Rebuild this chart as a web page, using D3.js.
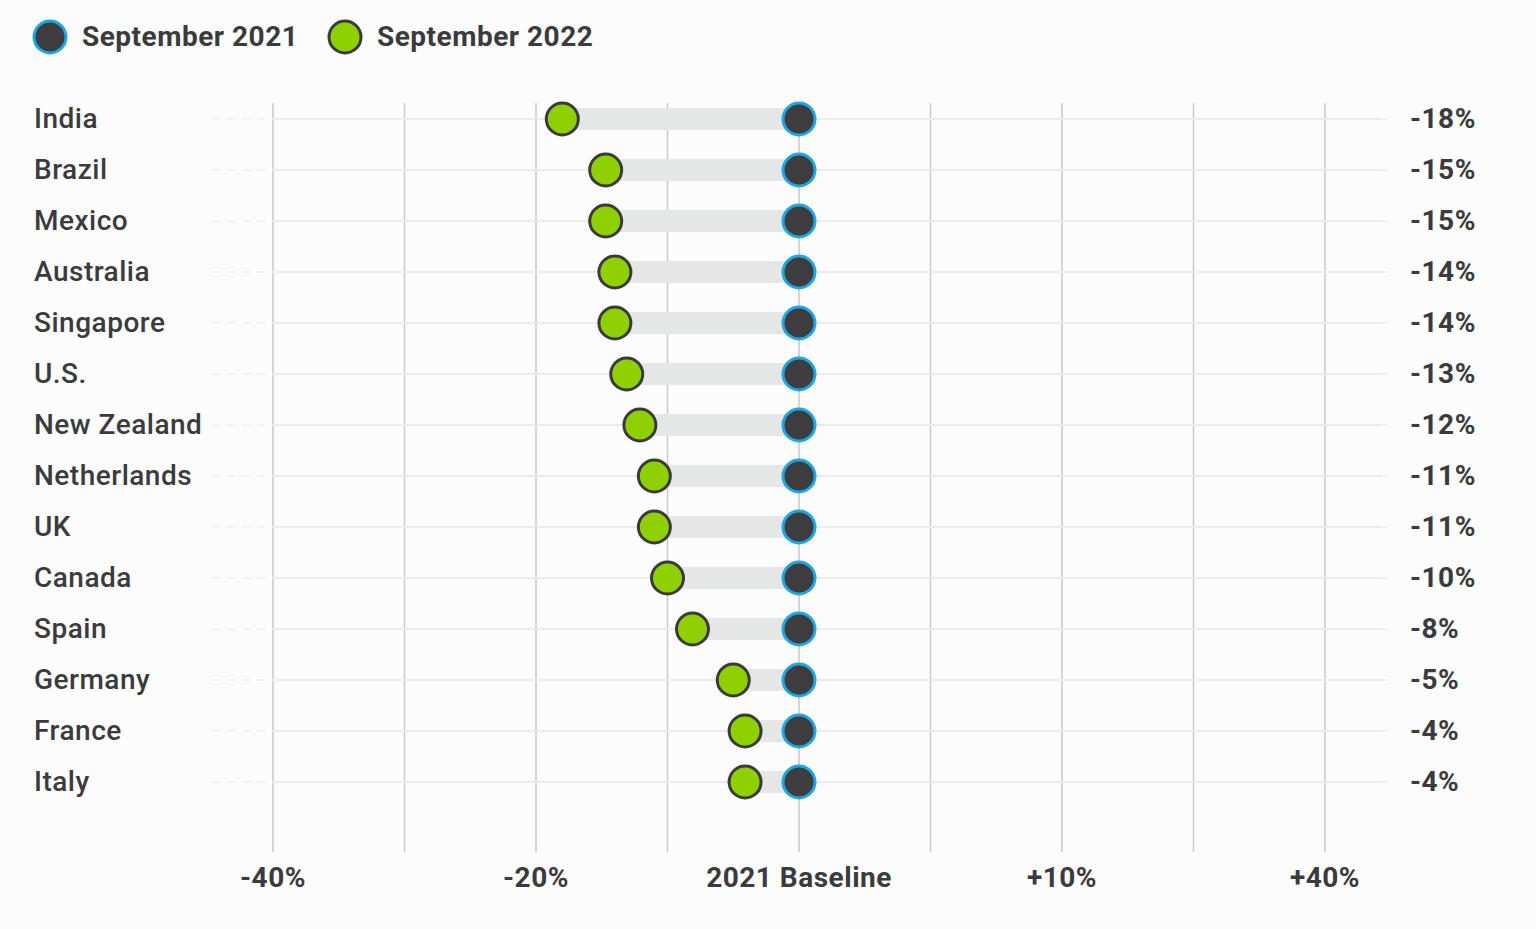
<!DOCTYPE html>
<html>
<head>
<meta charset="utf-8">
<script src="https://cdn.jsdelivr.net/npm/d3@7"></script>
<style>
  html, body { margin: 0; padding: 0; background: #fcfcfc; }
  svg text { font-family: Roboto, "Noto Sans", sans-serif; fill: #3b3b3d; letter-spacing: 0.5px; }
</style>
</head>
<body>
<svg id="chart" width="1536" height="929"></svg>
<script>
// data (change vs. 2021 baseline, %)
const countries = ['India', 'Brazil', 'Mexico', 'Australia', 'Singapore', 'U.S.', 'New Zealand',
  'Netherlands', 'UK', 'Canada', 'Spain', 'Germany', 'France', 'Italy'];
const sep2021 = [0, 0, 0, 0, 0, 0, 0, 0, 0, 0, 0, 0, 0, 0];
const sep2022 = [-18, -14.7, -14.7, -14, -14, -13.1, -12.1, -11, -11, -10, -8.1, -5, -4.1, -4.1];
const changeLabels = ['-18%', '-15%', '-15%', '-14%', '-14%', '-13%', '-12%', '-11%', '-11%', '-10%', '-8%', '-5%', '-4%', '-4%'];
const gridTicks = [-40, -30, -20, -10, 0, 10, 20, 30, 40];
const tickLabels = [
  { v: -40, t: '-40%' },
  { v: -20, t: '-20%' },
  { v: 0, t: '2021 Baseline' },
  { v: 20, t: '+10%' },
  { v: 40, t: '+40%' }
];
const seriesNames = ['September 2021', 'September 2022'];

const dark = '#3d3d3f', blue = '#1ea7e1', green = '#8fd100', outline = '#3a3a3a';

const svg = d3.select('#chart');
const x = d3.scaleLinear().domain([-40, 40]).range([273, 1325]);
const y = d3.scalePoint().domain(countries).range([119, 782]);

// vertical grid
svg.append('g')
  .selectAll('line')
  .data(gridTicks)
  .join('line')
  .attr('x1', d => x(d)).attr('x2', d => x(d))
  .attr('y1', 103).attr('y2', 852)
  .attr('stroke', '#c9c9c9')
  .attr('stroke-width', 1.5);

// row guide lines
const rows = svg.append('g');
rows.selectAll('line.solid')
  .data(countries)
  .join('line')
  .attr('class', 'solid')
  .attr('x1', 272).attr('x2', 1382)
  .attr('y1', d => y(d)).attr('y2', d => y(d))
  .attr('stroke', '#ebebeb')
  .attr('stroke-width', 2);
rows.selectAll('line.dl')
  .data(countries)
  .join('line')
  .attr('class', 'dl')
  .attr('x1', 212).attr('x2', 272)
  .attr('y1', d => y(d)).attr('y2', d => y(d))
  .attr('stroke', '#eeeeee')
  .attr('stroke-width', 1.5)
  .attr('stroke-dasharray', '8,7');
rows.selectAll('line.dr')
  .data(countries)
  .join('line')
  .attr('class', 'dr')
  .attr('x1', 1382).attr('x2', 1394)
  .attr('y1', d => y(d)).attr('y2', d => y(d))
  .attr('stroke', '#eeeeee')
  .attr('stroke-width', 1.5)
  .attr('stroke-dasharray', '6,6');

// connecting bars
svg.append('g')
  .selectAll('rect')
  .data(countries)
  .join('rect')
  .attr('x', (d, i) => x(sep2022[i]))
  .attr('width', (d, i) => x(sep2021[i]) - x(sep2022[i]))
  .attr('y', d => y(d) - 11)
  .attr('height', 22)
  .attr('fill', '#e5e6e6');

// 2022 points
svg.append('g')
  .selectAll('circle')
  .data(countries)
  .join('circle')
  .attr('cx', (d, i) => x(sep2022[i]))
  .attr('cy', d => y(d))
  .attr('r', 16)
  .attr('fill', green)
  .attr('stroke', outline)
  .attr('stroke-width', 3);

// 2021 points
svg.append('g')
  .selectAll('circle')
  .data(countries)
  .join('circle')
  .attr('cx', (d, i) => x(sep2021[i]))
  .attr('cy', d => y(d))
  .attr('r', 16)
  .attr('fill', dark)
  .attr('stroke', blue)
  .attr('stroke-width', 3);

// country labels
svg.append('g')
  .selectAll('text')
  .data(countries)
  .join('text')
  .attr('x', 34)
  .attr('y', d => y(d) - 1)
  .attr('dy', '0.36em')
  .attr('font-size', 28)
  .attr('font-weight', 500)
  .text(d => d);

// right value labels
svg.append('g')
  .selectAll('text')
  .data(countries)
  .join('text')
  .attr('x', 1410)
  .attr('y', d => y(d) - 1)
  .attr('dy', '0.36em')
  .attr('font-size', 28)
  .attr('font-weight', 700)
  .text((d, i) => changeLabels[i]);

// bottom axis labels
svg.append('g')
  .selectAll('text')
  .data(tickLabels)
  .join('text')
  .attr('x', d => x(d.v))
  .attr('y', 877)
  .attr('dy', '0.36em')
  .attr('text-anchor', 'middle')
  .attr('font-size', 28)
  .attr('font-weight', 700)
  .text(d => d.t);

// legend
const legend = svg.append('g');
const legendX = [50, 345];
legend.selectAll('circle')
  .data(seriesNames)
  .join('circle')
  .attr('cx', (d, i) => legendX[i])
  .attr('cy', 37)
  .attr('r', 16)
  .attr('fill', (d, i) => i === 0 ? dark : green)
  .attr('stroke', (d, i) => i === 0 ? blue : outline)
  .attr('stroke-width', 3);
legend.selectAll('text')
  .data(seriesNames)
  .join('text')
  .attr('x', (d, i) => legendX[i] + 32)
  .attr('y', 36)
  .attr('dy', '0.36em')
  .attr('font-size', 28)
  .attr('font-weight', 700)
  .text(d => d);
</script>
</body>
</html>
